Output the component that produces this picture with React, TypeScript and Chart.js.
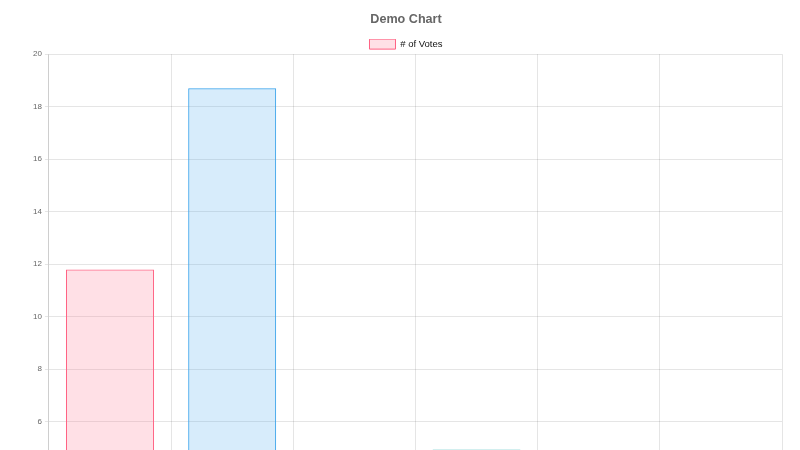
import React, { useEffect, useRef } from "react";
import { Chart, registerables } from "chart.js";

Chart.register(...registerables);

const categories = ["Red", "Blue", "Yellow", "Green", "Purple", "Orange"];
const votes = [11.8, 18.7, 3, 4.95, 2, 3];
const fillColors = [
  "rgba(255, 99, 132, 0.2)",
  "rgba(54, 162, 235, 0.2)",
  "rgba(255, 206, 86, 0.2)",
  "rgba(75, 192, 192, 0.2)",
  "rgba(153, 102, 255, 0.2)",
  "rgba(255, 159, 64, 0.2)",
];
const lineColors = [
  "rgba(255, 99, 132, 1)",
  "rgba(54, 162, 235, 1)",
  "rgba(255, 206, 86, 1)",
  "rgba(75, 192, 192, 1)",
  "rgba(153, 102, 255, 1)",
  "rgba(255, 159, 64, 1)",
];

export default function App() {
  const ref = useRef<HTMLCanvasElement | null>(null);
  useEffect(() => {
    if (!ref.current) return;
    const chart = new Chart(ref.current, {
      type: "bar",
      data: {
        labels: categories,
        datasets: [
          {
            label: "# of Votes",
            data: votes,
            backgroundColor: fillColors,
            borderColor: lineColors,
            borderWidth: 1,
          },
        ],
      },
      options: {
        animation: false,
        responsive: true,
        maintainAspectRatio: false,
        layout: { padding: { left: 22, right: 10, top: 0, bottom: 10 } },
        plugins: {
          title: {
            display: true,
            text: "Demo Chart",
            color: "#666",
            font: { size: 12.6, weight: "bold" },
            padding: { top: 4, bottom: 12 },
          },
          legend: {
            maxHeight: 15,
            labels: {
              color: "#111",
              boxWidth: 26,
              boxHeight: 10,
              padding: 0,
              font: { size: 9.5 },
            },
          },
          tooltip: { enabled: false },
        },
        scales: {
          x: {
            ticks: { color: "#666", font: { size: 8 } },
            grid: { color: "rgba(0,0,0,0.1)", tickLength: 4 },
          },
          y: {
            min: 0,
            max: 20,
            ticks: { stepSize: 2, color: "#666", font: { size: 8 } },
            grid: { color: "rgba(0,0,0,0.1)", tickLength: 4 },
          },
        },
      },
    });
    return () => chart.destroy();
  }, []);
  return (
    <div style={{ width: 784, height: 601, position: "relative" }}>
      <canvas ref={ref} />
    </div>
  );
}
